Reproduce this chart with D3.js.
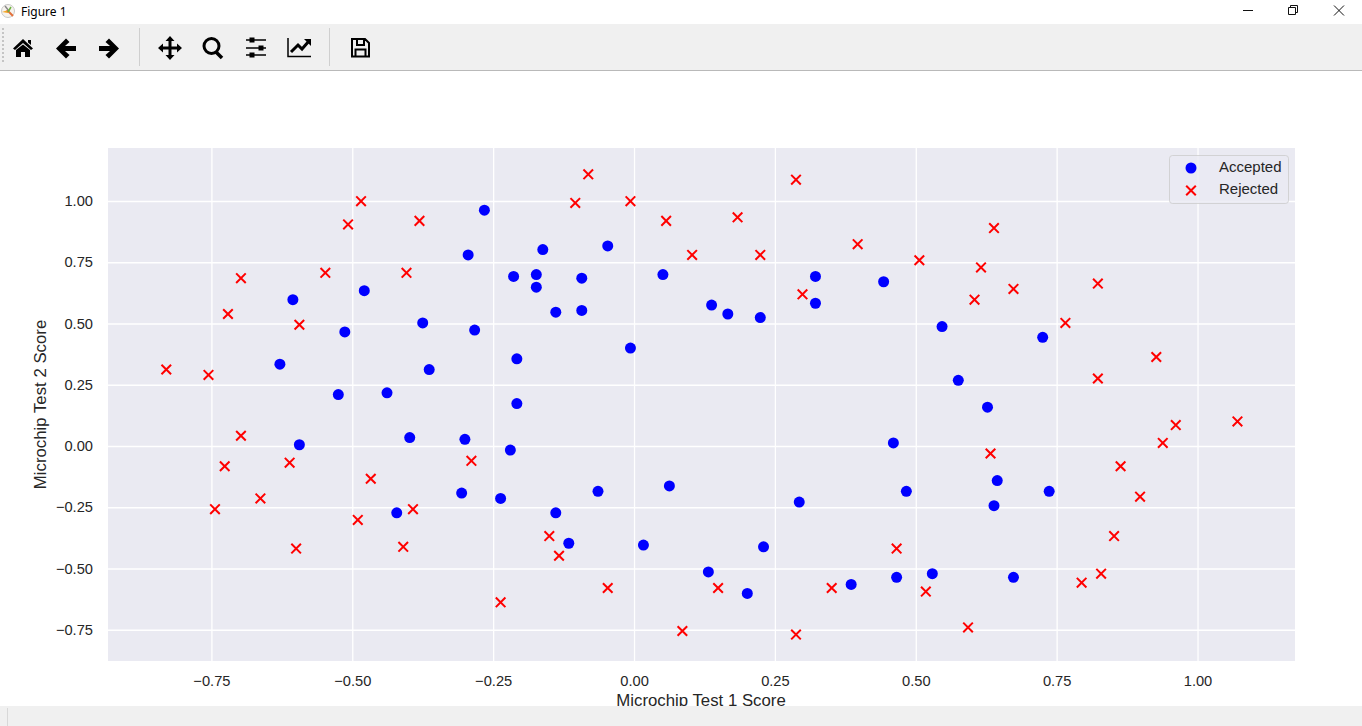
<!DOCTYPE html>
<html>
<head>
<meta charset="utf-8">
<title>Figure 1</title>
<script src="https://cdn.jsdelivr.net/npm/d3@7"></script>
<style>
  html, body { margin: 0; padding: 0; background: #fff; overflow: hidden; }
  svg { display: block; }
  text { font-family: "Liberation Sans", Arial, sans-serif; fill: #262626; }
</style>
</head>
<body>
<svg id="fig" width="1362" height="726"></svg>
<script>
// Microchip scores
var acceptedX = [0.051267,-0.092742,-0.21371,-0.375,-0.51325,-0.52477,-0.39804,-0.30588,0.016705,0.13191,0.38537,0.52938,0.63882,0.73675,0.54666,0.322,0.16647,-0.046659,-0.17339,-0.47869,-0.60541,-0.62846,-0.59389,-0.42108,-0.11578,0.20104,0.46601,0.67339,-0.13882,-0.29435,-0.26555,-0.16187,-0.17339,-0.28283,-0.36348,-0.30012,-0.23675,-0.06394,0.062788,0.22984,0.2932,0.48329,0.64459,0.46025,0.6273,0.57546,0.72523,0.22408,0.44297,0.322,0.13767,-0.0063364,-0.092742,-0.20795,-0.20795,-0.43836,-0.21947,-0.13882];
var acceptedY = [0.69956,0.68494,0.69225,0.50219,0.46564,0.2098,0.034357,-0.19225,-0.40424,-0.51389,-0.56506,-0.5212,-0.24342,-0.18494,0.48757,0.5826,0.53874,0.81652,0.69956,0.63377,0.59722,0.33406,0.005117,-0.27266,-0.39693,-0.60161,-0.53582,-0.53582,0.54605,0.77997,0.96272,0.8019,0.64839,0.47295,0.31213,0.027047,-0.21418,-0.18494,-0.16301,-0.41155,-0.2288,-0.18494,-0.14108,0.012427,0.15863,0.26827,0.44371,0.52412,0.67032,0.69225,0.57529,0.39985,0.55336,0.35599,0.17325,0.21711,-0.016813,-0.27266];
var rejectedX = [0.18376,0.22408,0.29896,0.50634,0.61578,0.60426,0.76555,0.92684,0.82316,0.96141,0.93836,0.86348,0.89804,0.85196,0.82892,0.79435,0.59274,0.51786,0.46601,0.35081,0.28744,0.085829,0.14919,-0.13306,-0.40956,-0.39228,-0.74366,-0.69758,-0.75518,-0.69758,-0.4038,-0.38076,-0.50749,-0.54781,0.10311,0.057028,-0.10426,-0.081221,0.28744,0.39689,0.63882,0.82316,0.67339,1.0709,-0.046659,-0.23675,-0.15035,-0.49021,-0.46717,-0.28859,-0.61118,-0.66302,-0.59965,-0.72638,-0.83007,-0.72062,-0.59389,-0.48445,-0.0063364,0.63265];
var rejectedY = [0.93348,0.77997,0.61915,0.75804,0.7288,0.59722,0.50219,0.3633,0.27558,0.085526,0.012427,-0.082602,-0.20687,-0.36769,-0.5212,-0.55775,-0.7405,-0.5943,-0.41886,-0.57968,-0.76974,-0.75512,-0.57968,-0.4481,-0.41155,-0.25804,-0.25804,0.041667,0.2902,0.68494,0.70687,0.91886,0.90424,0.70687,0.77997,0.91886,0.99196,1.1089,1.087,0.82383,0.88962,0.66301,0.64108,0.10015,-0.57968,-0.63816,-0.36769,-0.3019,-0.13377,-0.060673,-0.067982,-0.21418,-0.41886,-0.082602,0.31213,0.53874,0.49488,0.99927,0.99927,-0.030612];

var tickValues = [-0.75, -0.5, -0.25, 0, 0.25, 0.5, 0.75, 1];
var xLimits = [-0.9335, 1.173];
var yLimits = [-0.8776, 1.2163];
var seriesNames = ["Accepted", "Rejected"];

var svg = d3.select("#fig");

// Window chrome: title bar and toolbar
var chrome = svg.append("g");
chrome.append("rect").attr("x", 0).attr("y", 24).attr("width", 1362).attr("height", 46).attr("fill", "#f0f0f0");
chrome.append("rect").attr("x", 0).attr("y", 70).attr("width", 1362).attr("height", 1).attr("fill", "#b9b9b9");
chrome.append("text").text("Figure 1").attr("x", 21).attr("y", 16)
  .style("font-family", "'Noto Sans', sans-serif").style("font-size", "12px").style("fill", "#000");

// App icon
var appIcon = chrome.append("g").attr("transform", "translate(8,11)");
appIcon.append("circle").attr("r", 6.5).attr("fill", "#f6f3ee").attr("stroke", "#c9c9c9");
appIcon.append("path").attr("d", "M-6,1L0,-1L0,2Z").attr("fill", "#f5a623");
appIcon.append("path").attr("d", "M-1,-1L5,5").attr("stroke", "#e2703a").attr("stroke-width", 2);
appIcon.append("path").attr("d", "M-3,-5L1,0").attr("stroke", "#888").attr("stroke-width", 1.5);
appIcon.append("path").attr("d", "M3,-4L0,1").attr("stroke", "#6cb33f").attr("stroke-width", 1.5);

// Minimise, restore, close
chrome.append("path").attr("d", "M1243,10.5H1253").attr("stroke", "#111").attr("fill", "none");
chrome.append("path").attr("d", "M1288.5,7.5H1295.5V14.5H1288.5ZM1290.5,7.5V5.5H1297.5V12.5H1295.5").attr("stroke", "#111").attr("fill", "none");
chrome.append("path").attr("d", "M1334,5.5L1344,15.5M1344,5.5L1334,15.5").attr("stroke", "#111").attr("fill", "none");

// Toolbar gripper and separators
d3.range(9).forEach(function (i) {
  chrome.append("rect").attr("x", 2).attr("y", 28 + i * 4).attr("width", 2).attr("height", 2).attr("fill", "#c4c4c4");
});
[139.5, 329.5].forEach(function (x) {
  chrome.append("path").attr("d", "M" + x + ",28V66").attr("stroke", "#cfcfcf");
});

// Toolbar icons
var tools = chrome.append("g").attr("fill", "#000");
tools.append("path").attr("d", "M23,39L33,48.5L31,50L23,43L15,50L13,48.5Z M16,50L23,44.5L30,50V57H25V52H21V57H16Z M28,40H31V45L28,42.5Z");
tools.append("path").attr("d", "M66,38.5L69.5,42L65,46H76V51H65L69.5,55L66,58.5L56,48.5Z");
tools.append("path").attr("d", "M109,38.5L105.5,42L110,46H99V51H110L105.5,55L109,58.5L119,48.5Z");
tools.append("path").attr("d", "M170,36L174.5,41H171.5V46.5H177V43.5L182,48L177,52.5V49.5H171.5V55H174.5L170,60L165.5,55H168.5V49.5H163V52.5L158,48L163,43.5V46.5H168.5V41H165.5Z");
tools.append("circle").attr("cx", 211.5).attr("cy", 46).attr("r", 7.5).attr("fill", "none").attr("stroke", "#000").attr("stroke-width", 3);
tools.append("path").attr("d", "M216,52L222,58").attr("stroke", "#000").attr("stroke-width", 3.5);
[[40, 252], [48, 261], [55, 252]].forEach(function (s) {
  tools.append("path").attr("d", "M246," + s[0] + "H266").attr("stroke", "#000").attr("stroke-width", 1.5);
  tools.append("rect").attr("x", s[1] - 2.5).attr("y", s[0] - 2.5).attr("width", 5).attr("height", 5);
});
tools.append("path").attr("d", "M288,38V56.5H311").attr("fill", "none").attr("stroke", "#000").attr("stroke-width", 1.5);
tools.append("path").attr("d", "M291,52L298,45L302,49L309,41").attr("fill", "none").attr("stroke", "#000").attr("stroke-width", 3);
tools.append("path").attr("d", "M304,39H311V46Z");
tools.append("path").attr("d", "M352,39H365L369,43V56.5H352Z M357,39V45H364V39 M355.5,56.5V49.5H365.5V56.5")
  .attr("fill", "none").attr("stroke", "#000").attr("stroke-width", 2);

// Axes area
var margin = { left: 108, right: 1295, top: 148, bottom: 661 };
var x = d3.scaleLinear().domain(xLimits).range([margin.left, margin.right]);
var y = d3.scaleLinear().domain(yLimits).range([margin.bottom, margin.top]);

svg.append("rect").attr("x", margin.left).attr("y", margin.top)
  .attr("width", margin.right - margin.left).attr("height", margin.bottom - margin.top)
  .attr("fill", "#eaeaf2");

// Minus sign and two decimals, like matplotlib
var tickFmt = function (d) { return d3.format(".2f")(d).replace("-", "\u2212"); };

var xAxis = svg.append("g").attr("transform", "translate(0," + margin.bottom + ")")
  .call(d3.axisBottom(x).tickValues(tickValues).tickFormat(tickFmt).tickSize(margin.top - margin.bottom).tickPadding(15));
var yAxis = svg.append("g").attr("transform", "translate(" + margin.left + ",0)")
  .call(d3.axisLeft(y).tickValues(tickValues).tickFormat(tickFmt).tickSize(margin.left - margin.right).tickPadding(15));

[xAxis, yAxis].forEach(function (axis) {
  axis.select(".domain").remove();
  axis.selectAll(".tick line").attr("stroke", "#fff").attr("stroke-width", 1.3);
  axis.selectAll(".tick text").style("font-size", "14.67px").style("font-family", "'Liberation Sans', Arial, sans-serif").style("fill", "#262626");
});

// Scatter marks
var xMark = "M-4.8,-4.8L4.8,4.8M-4.8,4.8L4.8,-4.8";

svg.append("g").selectAll("circle").data(acceptedX).join("circle")
  .attr("cx", function (d) { return x(d); })
  .attr("cy", function (d, i) { return y(acceptedY[i]); })
  .attr("r", 5.5)
  .attr("fill", "#0000ff");

svg.append("g").selectAll("path").data(rejectedX).join("path")
  .attr("transform", function (d, i) { return "translate(" + x(d) + "," + y(rejectedY[i]) + ")"; })
  .attr("d", xMark)
  .attr("fill", "none")
  .attr("stroke", "#ff0000")
  .attr("stroke-width", 2);

// Legend
var legend = svg.append("g");
legend.append("rect").attr("x", 1169.5).attr("y", 155.5).attr("width", 119).attr("height", 48).attr("rx", 3)
  .attr("fill", "#eaeaf2").attr("fill-opacity", 0.8).attr("stroke", "#cccccc").attr("stroke-opacity", 0.8);
legend.append("circle").attr("cx", 1191).attr("cy", 168).attr("r", 5.5).attr("fill", "#0000ff");
legend.append("path").attr("transform", "translate(1191,190.5)").attr("d", xMark)
  .attr("fill", "none").attr("stroke", "#ff0000").attr("stroke-width", 2);
legend.selectAll("text").data(seriesNames).join("text")
  .text(function (d) { return d; })
  .attr("x", 1219)
  .attr("y", function (d, i) { return 172 + i * 22; })
  .style("font-size", "15px");

// Axis titles
svg.append("text").text("Microchip Test 1 Score")
  .attr("x", 701).attr("y", 706).attr("text-anchor", "middle").style("font-size", "16.8px");
svg.append("text").text("Microchip Test 2 Score")
  .attr("transform", "translate(46,404.5) rotate(-90)").attr("text-anchor", "middle").style("font-size", "16.8px");

// Status bar covers the bottom of the x label, as in the window
svg.append("rect").attr("x", 0).attr("y", 706).attr("width", 1362).attr("height", 20).attr("fill", "#f0f0f0");
svg.append("path").attr("d", "M7.5,708V726").attr("stroke", "#d8d8d8");
</script>
</body>
</html>
